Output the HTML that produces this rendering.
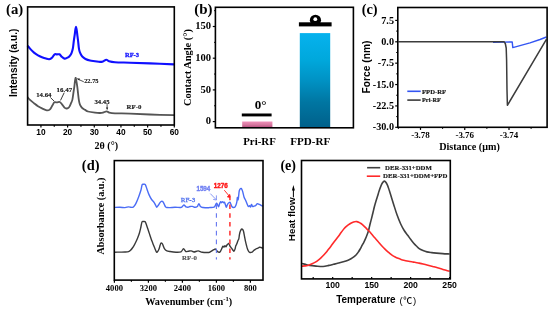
<!DOCTYPE html>
<html><head><meta charset="utf-8"><style>
html,body{margin:0;padding:0;background:#fff;overflow:hidden;}
svg{display:block;}
</style></head><body>
<svg width="550" height="312" viewBox="0 0 550 312">
<rect width="550" height="312" fill="#fff"/>
<text x="6.05" y="14.20" font-family='"Liberation Serif", "Times New Roman", serif' font-size="14.75" font-weight="bold">(a)</text>
<line x1="40.94" y1="125.00" x2="40.94" y2="127.60" stroke="#000" stroke-width="1.2" />
<line x1="54.27" y1="125.00" x2="54.27" y2="126.70" stroke="#000" stroke-width="1.2" />
<line x1="67.61" y1="125.00" x2="67.61" y2="127.60" stroke="#000" stroke-width="1.2" />
<line x1="80.95" y1="125.00" x2="80.95" y2="126.70" stroke="#000" stroke-width="1.2" />
<line x1="94.28" y1="125.00" x2="94.28" y2="127.60" stroke="#000" stroke-width="1.2" />
<line x1="107.62" y1="125.00" x2="107.62" y2="126.70" stroke="#000" stroke-width="1.2" />
<line x1="120.95" y1="125.00" x2="120.95" y2="127.60" stroke="#000" stroke-width="1.2" />
<line x1="134.29" y1="125.00" x2="134.29" y2="126.70" stroke="#000" stroke-width="1.2" />
<line x1="147.63" y1="125.00" x2="147.63" y2="127.60" stroke="#000" stroke-width="1.2" />
<line x1="160.96" y1="125.00" x2="160.96" y2="126.70" stroke="#000" stroke-width="1.2" />
<line x1="174.30" y1="125.00" x2="174.30" y2="127.60" stroke="#000" stroke-width="1.2" />
<text x="40.94" y="135.35" font-family='"Liberation Sans", Arial, sans-serif' font-size="8.3" font-weight="bold" text-anchor="middle" >10</text>
<text x="67.61" y="135.35" font-family='"Liberation Sans", Arial, sans-serif' font-size="8.3" font-weight="bold" text-anchor="middle" >20</text>
<text x="94.28" y="135.35" font-family='"Liberation Sans", Arial, sans-serif' font-size="8.3" font-weight="bold" text-anchor="middle" >30</text>
<text x="120.95" y="135.35" font-family='"Liberation Sans", Arial, sans-serif' font-size="8.3" font-weight="bold" text-anchor="middle" >40</text>
<text x="147.63" y="135.35" font-family='"Liberation Sans", Arial, sans-serif' font-size="8.3" font-weight="bold" text-anchor="middle" >50</text>
<text x="174.30" y="135.35" font-family='"Liberation Sans", Arial, sans-serif' font-size="8.3" font-weight="bold" text-anchor="middle" >60</text>
<text x="94.55" y="148.90" font-family='"Liberation Serif", "Times New Roman", serif' font-size="10.07" font-weight="bold">2θ (°)</text>
<text transform="translate(16.7,97.12) rotate(-90)" font-family='"Liberation Sans", Arial, sans-serif' font-size="10.12" font-weight="bold" fill="#000">Intensity (a.u.)</text>
<path d="M27.50,45.60 C27.92,46.10 28.92,47.43 30.00,48.60 C31.08,49.77 32.67,51.48 34.00,52.60 C35.33,53.72 36.67,54.53 38.00,55.30 C39.33,56.07 40.67,56.65 42.00,57.20 C43.33,57.75 44.80,58.27 46.00,58.60 C47.20,58.93 48.20,59.33 49.20,59.20 C50.20,59.07 51.10,58.62 52.00,57.80 C52.90,56.98 53.77,54.87 54.60,54.30 C55.43,53.73 56.18,54.40 57.00,54.40 C57.82,54.40 58.75,53.93 59.50,54.30 C60.25,54.67 60.67,55.88 61.50,56.60 C62.33,57.32 63.50,58.43 64.50,58.60 C65.50,58.77 66.67,58.00 67.50,57.60 C68.33,57.20 68.90,56.80 69.50,56.20 C70.10,55.60 70.65,54.87 71.10,54.00 C71.55,53.13 71.88,52.07 72.20,51.00 C72.52,49.93 72.73,49.27 73.00,47.60 C73.27,45.93 73.52,43.13 73.80,41.00 C74.08,38.87 74.43,36.72 74.70,34.80 C74.97,32.88 75.18,30.82 75.40,29.50 C75.62,28.18 75.80,26.90 76.00,26.90 C76.20,26.90 76.38,28.18 76.60,29.50 C76.82,30.82 77.05,32.88 77.30,34.80 C77.55,36.72 77.85,38.87 78.10,41.00 C78.35,43.13 78.55,45.85 78.80,47.60 C79.05,49.35 79.28,50.43 79.60,51.50 C79.92,52.57 80.22,53.12 80.70,54.00 C81.18,54.88 81.70,55.97 82.50,56.80 C83.30,57.63 84.25,58.37 85.50,59.00 C86.75,59.63 88.42,60.23 90.00,60.60 C91.58,60.97 93.33,60.98 95.00,61.20 C96.67,61.42 98.67,61.87 100.00,61.90 C101.33,61.93 101.95,61.77 103.00,61.40 C104.05,61.03 105.30,59.73 106.30,59.70 C107.30,59.67 107.55,60.78 109.00,61.20 C110.45,61.62 111.50,61.95 115.00,62.20 C118.50,62.45 124.17,62.50 130.00,62.70 C135.83,62.90 142.67,63.12 150.00,63.40 C157.33,63.68 170.00,64.23 174.00,64.40" fill="none" stroke="#1010ff" stroke-width="2.1" stroke-linejoin="round"/>
<path d="M27.50,97.20 C27.92,97.65 28.92,98.90 30.00,99.90 C31.08,100.90 32.67,102.15 34.00,103.20 C35.33,104.25 36.67,105.33 38.00,106.20 C39.33,107.07 40.53,107.70 42.00,108.40 C43.47,109.10 45.47,110.25 46.80,110.40 C48.13,110.55 49.05,110.17 50.00,109.30 C50.95,108.43 51.77,106.37 52.50,105.20 C53.23,104.03 53.65,102.77 54.40,102.30 C55.15,101.83 56.10,102.45 57.00,102.40 C57.90,102.35 58.97,101.68 59.80,102.00 C60.63,102.32 61.22,103.37 62.00,104.30 C62.78,105.23 63.77,106.90 64.50,107.60 C65.23,108.30 65.73,108.47 66.40,108.50 C67.07,108.53 67.93,108.22 68.50,107.80 C69.07,107.38 69.38,106.77 69.80,106.00 C70.22,105.23 70.57,104.27 71.00,103.20 C71.43,102.13 72.00,101.30 72.40,99.60 C72.80,97.90 73.08,95.13 73.40,93.00 C73.72,90.87 74.03,88.80 74.30,86.80 C74.57,84.80 74.78,82.50 75.00,81.00 C75.22,79.50 75.40,77.97 75.60,77.80 C75.80,77.63 75.92,78.50 76.20,80.00 C76.48,81.50 77.00,84.63 77.30,86.80 C77.60,88.97 77.75,90.87 78.00,93.00 C78.25,95.13 78.53,97.85 78.80,99.60 C79.07,101.35 79.28,102.43 79.60,103.50 C79.92,104.57 80.22,105.20 80.70,106.00 C81.18,106.80 81.75,107.65 82.50,108.30 C83.25,108.95 84.28,109.37 85.20,109.90 C86.12,110.43 86.37,111.03 88.00,111.50 C89.63,111.97 93.00,112.45 95.00,112.70 C97.00,112.95 98.67,113.02 100.00,113.00 C101.33,112.98 101.90,112.88 103.00,112.60 C104.10,112.32 105.60,111.32 106.60,111.30 C107.60,111.28 107.60,112.17 109.00,112.50 C110.40,112.83 111.50,113.12 115.00,113.30 C118.50,113.48 124.17,113.40 130.00,113.60 C135.83,113.80 142.67,114.23 150.00,114.50 C157.33,114.77 170.00,115.08 174.00,115.20" fill="none" stroke="#555" stroke-width="1.8" stroke-linejoin="round"/>
<text transform="translate(125.02,56.80) scale(1,1.035)" font-family='"Liberation Serif", "Times New Roman", serif' font-size="6.45" font-weight="bold" fill="#1414ff" stroke="#1414ff" stroke-width="0.3">RF-3</text>
<text x="126.60" y="108.65" font-family='"Liberation Serif", "Times New Roman", serif' font-size="6.83" font-weight="bold" fill="#222" stroke="#222" stroke-width="0.15">RF-0</text>
<text x="36.25" y="96.65" font-family='"Liberation Serif", "Times New Roman", serif' font-size="6.74" font-weight="bold" fill="#1a1a1a" stroke="#1a1a1a" stroke-width="0.15">14.64</text>
<text x="56.62" y="91.75" font-family='"Liberation Serif", "Times New Roman", serif' font-size="6.9" font-weight="bold" fill="#1a1a1a" stroke="#1a1a1a" stroke-width="0.15">16.47</text>
<text x="84.20" y="82.76" font-family='"Liberation Serif", "Times New Roman", serif' font-size="6.36" font-weight="bold" fill="#1a1a1a" stroke="#1a1a1a" stroke-width="0.15">22.75</text>
<text x="94.48" y="103.50" font-family='"Liberation Serif", "Times New Roman", serif' font-size="6.72" font-weight="bold" fill="#1a1a1a" stroke="#1a1a1a" stroke-width="0.15">34.45</text>
<line x1="50.40" y1="97.50" x2="54.20" y2="101.20" stroke="#222" stroke-width="0.9" />
<line x1="64.20" y1="92.70" x2="60.50" y2="100.40" stroke="#222" stroke-width="0.9" />
<line x1="77.40" y1="78.90" x2="83.80" y2="81.80" stroke="#222" stroke-width="0.8" />
<path d="M76.9,78.6 L79.9,78.6 L79.2,80.6 Z" fill="#222"/>
<line x1="107.10" y1="104.10" x2="107.10" y2="108.60" stroke="#222" stroke-width="0.8" />
<path d="M106.0,107.6 L108.2,107.6 L107.1,110.2 Z" fill="#222"/>
<rect x="27.6" y="6.9" width="146.70" height="118.10" fill="none" stroke="#000" stroke-width="1.6"/>
<text x="194.20" y="14.05" font-family='"Liberation Serif", "Times New Roman", serif' font-size="14.97" font-weight="bold">(b)</text>
<defs><linearGradient id="gp" x1="0" y1="0" x2="0" y2="1"><stop offset="0" stop-color="#f090bb"/><stop offset="0.5" stop-color="#d7789f"/><stop offset="1" stop-color="#b04a7c"/></linearGradient><linearGradient id="gb" x1="0" y1="0" x2="0" y2="1"><stop offset="0" stop-color="#06b2ee"/><stop offset="0.28" stop-color="#00a8dc"/><stop offset="0.5" stop-color="#0092c4"/><stop offset="0.73" stop-color="#0076a2"/><stop offset="1" stop-color="#00608a"/></linearGradient></defs>
<rect x="242.2" y="121.5" width="30.2" height="6.30" fill="url(#gp)"/>
<rect x="299.8" y="33.1" width="30.4" height="94.70" fill="url(#gb)"/>
<line x1="212.80" y1="121.60" x2="215.40" y2="121.60" stroke="#000" stroke-width="1.2" />
<text x="211.00" y="124.25" font-family='"Liberation Serif", "Times New Roman", serif' font-size="10.58" font-weight="bold" text-anchor="end" >0</text>
<line x1="212.80" y1="89.90" x2="215.40" y2="89.90" stroke="#000" stroke-width="1.2" />
<text x="211.00" y="92.55" font-family='"Liberation Serif", "Times New Roman", serif' font-size="10.58" font-weight="bold" text-anchor="end" >50</text>
<line x1="212.80" y1="58.20" x2="215.40" y2="58.20" stroke="#000" stroke-width="1.2" />
<text x="211.00" y="60.85" font-family='"Liberation Serif", "Times New Roman", serif' font-size="10.58" font-weight="bold" text-anchor="end" >100</text>
<line x1="212.80" y1="26.50" x2="215.40" y2="26.50" stroke="#000" stroke-width="1.2" />
<text x="211.00" y="29.15" font-family='"Liberation Serif", "Times New Roman", serif' font-size="10.58" font-weight="bold" text-anchor="end" >150</text>
<line x1="214.00" y1="105.75" x2="215.40" y2="105.75" stroke="#000" stroke-width="0.9" />
<line x1="214.00" y1="74.05" x2="215.40" y2="74.05" stroke="#000" stroke-width="0.9" />
<line x1="214.00" y1="42.35" x2="215.40" y2="42.35" stroke="#000" stroke-width="0.9" />
<line x1="214.00" y1="10.65" x2="215.40" y2="10.65" stroke="#000" stroke-width="0.9" />
<text transform="translate(191.35,105.98) rotate(-90)" font-family='"Liberation Serif", "Times New Roman", serif' font-size="10.4" font-weight="bold" fill="#000">Contact Angle (°)</text>
<text x="243.24" y="144.72" font-family='"Liberation Serif", "Times New Roman", serif' font-size="10.86" font-weight="bold">Pri-RF</text>
<text x="290.29" y="144.72" font-family='"Liberation Serif", "Times New Roman", serif' font-size="11.1" font-weight="bold">FPD-RF</text>
<text transform="translate(254.73,109.30) scale(1,1.006)" font-family='"Liberation Serif", "Times New Roman", serif' font-size="13.07" font-weight="bold">0°</text>
<rect x="241.8" y="113.5" width="29.8" height="2.9" fill="#000"/>
<rect x="298.9" y="22.3" width="32.7" height="4.1" fill="#000"/>
<circle cx="315.45" cy="20.3" r="5.6" fill="#000"/>
<circle cx="315.3" cy="19.2" r="1.9" fill="#fff"/>
<rect x="215.4" y="7.3" width="138.00" height="120.50" fill="none" stroke="#000" stroke-width="1.6"/>
<text x="361.64" y="13.80" font-family='"Liberation Serif", "Times New Roman", serif' font-size="14.34" font-weight="bold">(c)</text>
<line x1="395.20" y1="20.42" x2="397.80" y2="20.42" stroke="#000" stroke-width="1.2" />
<text x="394.00" y="23.52" font-family='"Liberation Serif", "Times New Roman", serif' font-size="10.2" font-weight="bold" text-anchor="end" >7.5</text>
<line x1="395.20" y1="41.80" x2="397.80" y2="41.80" stroke="#000" stroke-width="1.2" />
<text x="394.00" y="44.90" font-family='"Liberation Serif", "Times New Roman", serif' font-size="10.2" font-weight="bold" text-anchor="end" >0.0</text>
<line x1="395.20" y1="63.17" x2="397.80" y2="63.17" stroke="#000" stroke-width="1.2" />
<text x="394.00" y="66.27" font-family='"Liberation Serif", "Times New Roman", serif' font-size="10.2" font-weight="bold" text-anchor="end" >-7.5</text>
<line x1="395.20" y1="84.55" x2="397.80" y2="84.55" stroke="#000" stroke-width="1.2" />
<text x="394.00" y="87.65" font-family='"Liberation Serif", "Times New Roman", serif' font-size="10.2" font-weight="bold" text-anchor="end" >-15.0</text>
<line x1="395.20" y1="105.92" x2="397.80" y2="105.92" stroke="#000" stroke-width="1.2" />
<text x="394.00" y="109.02" font-family='"Liberation Serif", "Times New Roman", serif' font-size="10.2" font-weight="bold" text-anchor="end" >-22.5</text>
<line x1="395.20" y1="127.30" x2="397.80" y2="127.30" stroke="#000" stroke-width="1.2" />
<text x="394.00" y="130.40" font-family='"Liberation Serif", "Times New Roman", serif' font-size="10.2" font-weight="bold" text-anchor="end" >-30.0</text>
<line x1="396.20" y1="31.11" x2="397.80" y2="31.11" stroke="#000" stroke-width="1" />
<line x1="396.20" y1="52.49" x2="397.80" y2="52.49" stroke="#000" stroke-width="1" />
<line x1="396.20" y1="73.86" x2="397.80" y2="73.86" stroke="#000" stroke-width="1" />
<line x1="396.20" y1="95.24" x2="397.80" y2="95.24" stroke="#000" stroke-width="1" />
<line x1="396.20" y1="116.61" x2="397.80" y2="116.61" stroke="#000" stroke-width="1" />
<line x1="420.50" y1="127.30" x2="420.50" y2="129.90" stroke="#000" stroke-width="1.2" />
<text x="420.50" y="138.40" font-family='"Liberation Serif", "Times New Roman", serif' font-size="8.99" font-weight="bold" text-anchor="middle" >-3.78</text>
<line x1="464.75" y1="127.30" x2="464.75" y2="129.90" stroke="#000" stroke-width="1.2" />
<text x="464.75" y="138.40" font-family='"Liberation Serif", "Times New Roman", serif' font-size="8.99" font-weight="bold" text-anchor="middle" >-3.76</text>
<line x1="509.00" y1="127.30" x2="509.00" y2="129.90" stroke="#000" stroke-width="1.2" />
<text x="509.00" y="138.40" font-family='"Liberation Serif", "Times New Roman", serif' font-size="8.99" font-weight="bold" text-anchor="middle" >-3.74</text>
<line x1="398.37" y1="127.30" x2="398.37" y2="128.90" stroke="#000" stroke-width="1" />
<line x1="442.62" y1="127.30" x2="442.62" y2="128.90" stroke="#000" stroke-width="1" />
<line x1="486.87" y1="127.30" x2="486.87" y2="128.90" stroke="#000" stroke-width="1" />
<line x1="531.12" y1="127.30" x2="531.12" y2="128.90" stroke="#000" stroke-width="1" />
<text x="439.20" y="149.86" font-family='"Liberation Serif", "Times New Roman", serif' font-size="10.14" font-weight="bold">Distance (μm)</text>
<text transform="translate(370.0,93.4) rotate(-90)" font-family='"Liberation Sans", Arial, sans-serif' font-size="10.24" font-weight="bold" fill="#000">Force (nm)</text>
<path d="M493.00,42.20 L504.00,42.10 L512.20,41.90 L512.80,47.60 L520.00,45.60 L530.00,42.80 L540.00,39.50 L546.40,37.00" fill="none" stroke="#3355f2" stroke-width="1.4" stroke-linejoin="round"/>
<path d="M398.40,41.80 L504.00,41.80 L505.30,43.50 L506.20,48.00 L506.60,60.00 L507.00,90.00 L507.40,105.30 L546.40,39.30" fill="none" stroke="#3c3c3c" stroke-width="1.5" stroke-linejoin="round"/>
<line x1="407.30" y1="91.30" x2="420.70" y2="91.30" stroke="#3355f2" stroke-width="1.6" />
<line x1="407.30" y1="100.10" x2="420.70" y2="100.10" stroke="#3c3c3c" stroke-width="1.6" />
<text x="422.05" y="93.70" font-family='"Liberation Serif", "Times New Roman", serif' font-size="6.65" font-weight="bold" fill="#1a1a1a" stroke="#1a1a1a" stroke-width="0.2">FPD-RF</text>
<text x="422.04" y="102.44" font-family='"Liberation Serif", "Times New Roman", serif' font-size="6.28" font-weight="bold" fill="#1a1a1a" stroke="#1a1a1a" stroke-width="0.2">Pri-RF</text>
<rect x="397.8" y="7.5" width="149.30" height="119.80" fill="none" stroke="#000" stroke-width="1.6"/>
<text x="81.85" y="169.90" font-family='"Liberation Serif", "Times New Roman", serif' font-size="14.45" font-weight="bold">(d)</text>
<line x1="114.40" y1="280.10" x2="114.40" y2="282.70" stroke="#000" stroke-width="1.2" />
<line x1="131.40" y1="280.10" x2="131.40" y2="281.70" stroke="#000" stroke-width="1.2" />
<line x1="148.40" y1="280.10" x2="148.40" y2="282.70" stroke="#000" stroke-width="1.2" />
<line x1="165.40" y1="280.10" x2="165.40" y2="281.70" stroke="#000" stroke-width="1.2" />
<line x1="182.40" y1="280.10" x2="182.40" y2="282.70" stroke="#000" stroke-width="1.2" />
<line x1="199.40" y1="280.10" x2="199.40" y2="281.70" stroke="#000" stroke-width="1.2" />
<line x1="216.40" y1="280.10" x2="216.40" y2="282.70" stroke="#000" stroke-width="1.2" />
<line x1="233.40" y1="280.10" x2="233.40" y2="281.70" stroke="#000" stroke-width="1.2" />
<line x1="250.40" y1="280.10" x2="250.40" y2="282.70" stroke="#000" stroke-width="1.2" />
<text x="114.40" y="291.21" font-family='"Liberation Serif", "Times New Roman", serif' font-size="8.56" font-weight="bold" text-anchor="middle" >4000</text>
<text x="148.40" y="291.21" font-family='"Liberation Serif", "Times New Roman", serif' font-size="8.56" font-weight="bold" text-anchor="middle" >3200</text>
<text x="182.40" y="291.21" font-family='"Liberation Serif", "Times New Roman", serif' font-size="8.56" font-weight="bold" text-anchor="middle" >2400</text>
<text x="216.40" y="291.21" font-family='"Liberation Serif", "Times New Roman", serif' font-size="8.56" font-weight="bold" text-anchor="middle" >1600</text>
<text x="250.40" y="291.21" font-family='"Liberation Serif", "Times New Roman", serif' font-size="8.56" font-weight="bold" text-anchor="middle" >800</text>
<text x="145.2" y="304.88" font-family='"Liberation Serif", "Times New Roman", serif' font-size="10.24" font-weight="bold">Wavenumber (cm<tspan dy="-3.6" font-size="0.65em">-1</tspan><tspan dy="3.6">)</tspan></text>
<text transform="translate(103.85,254.5) rotate(-90)" font-family='"Liberation Serif", "Times New Roman", serif' font-size="10.13" font-weight="bold" fill="#000">Absorbance (a.u.)</text>
<path d="M114.20,207.40 C115.17,207.38 118.20,207.27 120.00,207.30 C121.80,207.33 123.58,207.67 125.00,207.60 C126.42,207.53 127.50,206.95 128.50,206.90 C129.50,206.85 130.22,207.25 131.00,207.30 C131.78,207.35 132.53,207.58 133.20,207.20 C133.87,206.82 134.48,205.77 135.00,205.00 C135.52,204.23 135.67,204.03 136.30,202.60 C136.93,201.17 138.03,198.45 138.80,196.40 C139.57,194.35 140.33,192.27 140.90,190.30 C141.47,188.33 141.73,185.60 142.20,184.60 C142.67,183.60 143.18,184.30 143.70,184.30 C144.22,184.30 144.75,183.78 145.30,184.60 C145.85,185.42 146.37,187.48 147.00,189.20 C147.63,190.92 148.33,193.18 149.10,194.90 C149.87,196.62 150.75,198.22 151.60,199.50 C152.45,200.78 153.53,201.65 154.20,202.60 C154.87,203.55 155.17,204.43 155.60,205.20 C156.03,205.97 156.32,207.23 156.80,207.20 C157.28,207.17 157.97,205.77 158.50,205.00 C159.03,204.23 159.52,203.22 160.00,202.60 C160.48,201.98 160.92,201.45 161.40,201.30 C161.88,201.15 162.42,201.20 162.90,201.70 C163.38,202.20 163.87,203.43 164.30,204.30 C164.73,205.17 165.05,206.37 165.50,206.90 C165.95,207.43 166.25,207.38 167.00,207.50 C167.75,207.62 168.67,207.63 170.00,207.60 C171.33,207.57 173.33,207.32 175.00,207.30 C176.67,207.28 178.87,207.52 180.00,207.50 C181.13,207.48 181.15,207.62 181.80,207.20 C182.45,206.78 183.20,205.07 183.90,205.00 C184.60,204.93 185.32,206.43 186.00,206.80 C186.68,207.17 187.33,207.25 188.00,207.20 C188.67,207.15 189.27,206.63 190.00,206.50 C190.73,206.37 191.57,206.27 192.40,206.40 C193.23,206.53 194.18,207.28 195.00,207.30 C195.82,207.32 196.65,207.12 197.30,206.50 C197.95,205.88 198.37,203.58 198.90,203.60 C199.43,203.62 199.82,205.95 200.50,206.60 C201.18,207.25 201.75,207.30 203.00,207.50 C204.25,207.70 206.83,207.80 208.00,207.80 C209.17,207.80 209.00,207.60 210.00,207.50 C211.00,207.40 213.08,207.60 214.00,207.20 C214.92,206.80 215.08,205.77 215.50,205.10 C215.92,204.43 216.17,203.28 216.50,203.20 C216.83,203.12 217.17,204.00 217.50,204.60 C217.83,205.20 218.17,206.88 218.50,206.80 C218.83,206.72 219.17,204.95 219.50,204.10 C219.83,203.25 220.17,201.93 220.50,201.70 C220.83,201.47 221.17,202.70 221.50,202.70 C221.83,202.70 222.17,201.70 222.50,201.70 C222.83,201.70 223.17,202.62 223.50,202.70 C223.83,202.78 224.17,201.80 224.50,202.20 C224.83,202.60 225.20,204.27 225.50,205.10 C225.80,205.93 226.05,207.12 226.30,207.20 C226.55,207.28 226.72,206.20 227.00,205.60 C227.28,205.00 227.67,204.08 228.00,203.60 C228.33,203.12 228.67,202.93 229.00,202.70 C229.33,202.47 229.67,201.88 230.00,202.20 C230.33,202.52 230.67,203.83 231.00,204.60 C231.33,205.37 231.58,206.32 232.00,206.80 C232.42,207.28 233.00,207.47 233.50,207.50 C234.00,207.53 234.58,207.40 235.00,207.00 C235.42,206.60 235.68,205.98 236.00,205.10 C236.32,204.22 236.67,202.98 236.90,201.70 C237.13,200.42 237.20,197.72 237.40,197.40 C237.60,197.08 237.88,200.12 238.10,199.80 C238.32,199.48 238.50,197.02 238.70,195.50 C238.90,193.98 238.98,191.87 239.30,190.70 C239.62,189.53 240.22,188.80 240.60,188.50 C240.98,188.20 241.25,188.38 241.60,188.90 C241.95,189.42 242.28,190.22 242.70,191.60 C243.12,192.98 243.62,195.77 244.10,197.20 C244.58,198.63 245.12,199.10 245.60,200.20 C246.08,201.30 246.55,202.75 247.00,203.80 C247.45,204.85 247.88,206.17 248.30,206.50 C248.72,206.83 249.13,205.72 249.50,205.80 C249.87,205.88 250.17,207.23 250.50,207.00 C250.83,206.77 251.17,204.50 251.50,204.40 C251.83,204.30 252.08,206.12 252.50,206.40 C252.92,206.68 253.50,206.20 254.00,206.10 C254.50,206.00 255.00,206.18 255.50,205.80 C256.00,205.42 256.50,204.08 257.00,203.80 C257.50,203.52 258.00,203.95 258.50,204.10 C259.00,204.25 259.50,204.45 260.00,204.70 C260.50,204.95 261.00,205.37 261.50,205.60 C262.00,205.83 262.75,206.02 263.00,206.10" fill="none" stroke="#4a6cf5" stroke-width="1.4" stroke-linejoin="round"/>
<path d="M114.20,252.20 C115.17,252.18 118.20,252.13 120.00,252.10 C121.80,252.07 123.57,252.08 125.00,252.00 C126.43,251.92 127.68,251.88 128.60,251.60 C129.52,251.32 129.87,250.90 130.50,250.30 C131.13,249.70 131.75,248.92 132.40,248.00 C133.05,247.08 133.75,245.97 134.40,244.80 C135.05,243.63 135.70,242.30 136.30,241.00 C136.90,239.70 137.47,238.38 138.00,237.00 C138.53,235.62 139.03,234.28 139.50,232.70 C139.97,231.12 140.38,229.28 140.80,227.50 C141.22,225.72 141.55,223.00 142.00,222.00 C142.45,221.00 142.97,221.53 143.50,221.50 C144.03,221.47 144.70,221.22 145.20,221.80 C145.70,222.38 146.07,223.83 146.50,225.00 C146.93,226.17 147.32,227.37 147.80,228.80 C148.28,230.23 148.87,232.00 149.40,233.60 C149.93,235.20 150.47,236.88 151.00,238.40 C151.53,239.92 152.07,241.30 152.60,242.70 C153.13,244.10 153.72,245.58 154.20,246.80 C154.68,248.02 155.07,249.07 155.50,250.00 C155.93,250.93 156.38,252.23 156.80,252.40 C157.22,252.57 157.62,251.62 158.00,251.00 C158.38,250.38 158.75,249.65 159.10,248.70 C159.45,247.75 159.80,246.22 160.10,245.30 C160.40,244.38 160.63,243.57 160.90,243.20 C161.17,242.83 161.43,242.97 161.70,243.10 C161.97,243.23 162.20,243.43 162.50,244.00 C162.80,244.57 163.17,245.72 163.50,246.50 C163.83,247.28 164.02,248.02 164.50,248.70 C164.98,249.38 165.48,250.13 166.40,250.60 C167.32,251.07 168.40,251.23 170.00,251.50 C171.60,251.77 174.17,252.15 176.00,252.20 C177.83,252.25 179.75,252.37 181.00,251.80 C182.25,251.23 182.70,248.85 183.50,248.80 C184.30,248.75 184.97,251.10 185.80,251.50 C186.63,251.90 187.58,251.30 188.50,251.20 C189.42,251.10 190.38,250.77 191.30,250.90 C192.22,251.03 192.87,252.00 194.00,252.00 C195.13,252.00 196.73,250.87 198.10,250.90 C199.47,250.93 200.62,251.93 202.20,252.20 C203.78,252.47 206.30,252.53 207.60,252.50 C208.90,252.47 209.23,252.32 210.00,252.00 C210.77,251.68 211.53,251.00 212.20,250.60 C212.87,250.20 213.45,249.85 214.00,249.60 C214.55,249.35 215.00,248.88 215.50,249.10 C216.00,249.32 216.50,250.38 217.00,250.90 C217.50,251.42 218.00,252.03 218.50,252.20 C219.00,252.37 219.58,252.23 220.00,251.90 C220.42,251.57 220.67,250.83 221.00,250.20 C221.33,249.57 221.67,248.78 222.00,248.10 C222.33,247.42 222.67,246.27 223.00,246.10 C223.33,245.93 223.67,247.17 224.00,247.10 C224.33,247.03 224.67,245.75 225.00,245.70 C225.33,245.65 225.67,246.92 226.00,246.80 C226.33,246.68 226.67,245.47 227.00,245.00 C227.33,244.53 227.67,244.25 228.00,244.00 C228.33,243.75 228.67,243.15 229.00,243.50 C229.33,243.85 229.58,245.33 230.00,246.10 C230.42,246.87 231.00,247.42 231.50,248.10 C232.00,248.78 232.58,249.68 233.00,250.20 C233.42,250.72 233.67,251.38 234.00,251.20 C234.33,251.02 234.72,249.95 235.00,249.10 C235.28,248.25 235.45,246.87 235.70,246.10 C235.95,245.33 236.23,245.10 236.50,244.50 C236.77,243.90 237.05,243.18 237.30,242.50 C237.55,241.82 237.75,241.00 238.00,240.40 C238.25,239.80 238.55,239.92 238.80,238.90 C239.05,237.88 239.25,235.58 239.50,234.30 C239.75,233.02 239.97,232.07 240.30,231.20 C240.63,230.33 241.13,229.42 241.50,229.10 C241.87,228.78 242.17,228.95 242.50,229.30 C242.83,229.65 243.17,230.03 243.50,231.20 C243.83,232.37 244.17,234.60 244.50,236.30 C244.83,238.00 245.17,239.87 245.50,241.40 C245.83,242.93 246.17,244.23 246.50,245.50 C246.83,246.77 247.12,247.98 247.50,249.00 C247.88,250.02 248.38,251.02 248.80,251.60 C249.22,252.18 249.47,252.40 250.00,252.50 C250.53,252.60 251.42,252.50 252.00,252.20 C252.58,251.90 253.00,251.13 253.50,250.70 C254.00,250.27 254.50,249.93 255.00,249.60 C255.50,249.27 256.00,248.95 256.50,248.70 C257.00,248.45 257.50,248.35 258.00,248.10 C258.50,247.85 259.00,247.30 259.50,247.20 C260.00,247.10 260.42,247.30 261.00,247.50 C261.58,247.70 262.67,248.25 263.00,248.40" fill="none" stroke="#3a3a3a" stroke-width="1.4" stroke-linejoin="round"/>
<line x1="216.40" y1="204.40" x2="216.40" y2="259.50" stroke="#6476f0" stroke-width="1.1" stroke-dasharray="4.6,4.2"/>
<line x1="229.90" y1="195.60" x2="229.90" y2="259.50" stroke="#ff5050" stroke-width="1.8" stroke-dasharray="4.6,4.2"/>
<line x1="210.30" y1="193.60" x2="215.90" y2="199.40" stroke="#6a7ef0" stroke-width="0.8" />
<path d="M216.4,195.4 L216.4,200.0 L213.2,199.4" fill="none" stroke="#6a7ef0" stroke-width="0.8"/>
<line x1="224.30" y1="190.20" x2="229.70" y2="196.60" stroke="#ff1a1a" stroke-width="0.9" />
<path d="M229.8,194.2 L229.8,197.6 L227.2,196.9 Z" fill="#ff1a1a" stroke="#ff1a1a" stroke-width="0.6"/>
<text transform="translate(196.40,191.45) scale(1,1.035)" font-family='"Liberation Sans", Arial, sans-serif' font-size="6.26" font-weight="bold" fill="#6f7ff2" stroke="#6f7ff2" stroke-width="0.35">1594</text>
<text transform="translate(213.86,187.80) scale(1,1.035)" font-family='"Liberation Sans", Arial, sans-serif' font-size="6.28" font-weight="bold" fill="#ff1414" stroke="#ff1414" stroke-width="0.4">1276</text>
<text x="180.80" y="202.40" font-family='"Liberation Serif", "Times New Roman", serif' font-size="6.99" font-weight="normal" fill="#5575ee" stroke="#5575ee" stroke-width="0.3">RF-3</text>
<text x="182.10" y="259.75" font-family='"Liberation Serif", "Times New Roman", serif' font-size="6.83" font-weight="bold" fill="#555" stroke="#555" stroke-width="0.15">RF-0</text>
<rect x="114.3" y="160.6" width="148.70" height="119.50" fill="none" stroke="#000" stroke-width="1.6"/>
<text x="280.46" y="169.55" font-family='"Liberation Serif", "Times New Roman", serif' font-size="14.0" font-weight="bold">(e)</text>
<line x1="313.19" y1="278.90" x2="313.19" y2="277.10" stroke="#000" stroke-width="1.2" />
<line x1="332.68" y1="278.90" x2="332.68" y2="277.10" stroke="#000" stroke-width="1.2" />
<line x1="352.17" y1="278.90" x2="352.17" y2="277.10" stroke="#000" stroke-width="1.2" />
<line x1="371.65" y1="278.90" x2="371.65" y2="277.10" stroke="#000" stroke-width="1.2" />
<line x1="391.14" y1="278.90" x2="391.14" y2="277.10" stroke="#000" stroke-width="1.2" />
<line x1="410.63" y1="278.90" x2="410.63" y2="277.10" stroke="#000" stroke-width="1.2" />
<line x1="430.11" y1="278.90" x2="430.11" y2="277.10" stroke="#000" stroke-width="1.2" />
<line x1="449.60" y1="278.90" x2="449.60" y2="277.10" stroke="#000" stroke-width="1.2" />
<text x="332.68" y="288.36" font-family='"Liberation Sans", Arial, sans-serif' font-size="8.7" font-weight="bold" text-anchor="middle" >100</text>
<text x="371.65" y="288.36" font-family='"Liberation Sans", Arial, sans-serif' font-size="8.7" font-weight="bold" text-anchor="middle" >150</text>
<text x="410.63" y="288.36" font-family='"Liberation Sans", Arial, sans-serif' font-size="8.7" font-weight="bold" text-anchor="middle" >200</text>
<text x="449.60" y="288.36" font-family='"Liberation Sans", Arial, sans-serif' font-size="8.7" font-weight="bold" text-anchor="middle" >250</text>
<text transform="translate(336.22,303.40) scale(1,1.017)" font-family='"Liberation Sans", Arial, sans-serif' font-size="9.95" font-weight="bold">Temperature</text>
<text x="399.4" y="304.0" font-family='"Liberation Sans", sans-serif' font-size="9.6">(</text>
<text x="403.3" y="303.6" font-family='"Noto Sans CJK SC", sans-serif' font-size="9" font-weight="500">℃</text>
<text x="412.9" y="304.0" font-family='"Liberation Sans", sans-serif' font-size="9.6">)</text>
<text transform="translate(295.45,241.15) rotate(-90)" font-family='"Liberation Sans", Arial, sans-serif' font-size="9.83" font-weight="bold" fill="#000">Heat flow</text>
<line x1="293.40" y1="197.30" x2="293.40" y2="189.00" stroke="#000" stroke-width="1" />
<path d="M293.4,185 L291.9,190.4 L294.9,190.4 Z" fill="#000"/>
<path d="M302.00,263.50 C302.58,263.65 304.23,264.08 305.50,264.40 C306.77,264.72 307.85,265.12 309.60,265.40 C311.35,265.68 313.75,265.92 316.00,266.10 C318.25,266.28 320.97,266.62 323.10,266.50 C325.23,266.38 327.07,265.77 328.80,265.40 C330.53,265.03 331.88,264.68 333.50,264.30 C335.12,263.92 336.87,263.52 338.50,263.10 C340.13,262.68 341.70,262.28 343.30,261.80 C344.90,261.32 346.82,260.70 348.10,260.20 C349.38,259.70 350.05,259.35 351.00,258.80 C351.95,258.25 352.97,257.53 353.80,256.90 C354.63,256.27 355.28,255.75 356.00,255.00 C356.72,254.25 357.40,253.40 358.10,252.40 C358.80,251.40 359.52,250.20 360.20,249.00 C360.88,247.80 361.60,246.32 362.20,245.20 C362.80,244.08 363.28,243.32 363.80,242.30 C364.32,241.28 364.78,240.28 365.30,239.10 C365.82,237.92 366.38,236.57 366.90,235.20 C367.42,233.83 367.98,232.28 368.40,230.90 C368.82,229.52 369.07,228.27 369.40,226.90 C369.73,225.53 370.05,224.08 370.40,222.70 C370.75,221.32 371.15,219.97 371.50,218.60 C371.85,217.23 372.17,215.87 372.50,214.50 C372.83,213.13 373.17,211.77 373.50,210.40 C373.83,209.03 374.08,207.87 374.50,206.30 C374.92,204.73 375.48,202.72 376.00,201.00 C376.52,199.28 377.08,197.65 377.60,196.00 C378.12,194.35 378.43,193.05 379.10,191.10 C379.77,189.15 380.72,185.97 381.60,184.30 C382.48,182.63 383.48,181.10 384.40,181.10 C385.32,181.10 386.25,182.63 387.10,184.30 C387.95,185.97 388.43,187.83 389.50,191.10 C390.57,194.37 392.23,199.90 393.50,203.90 C394.77,207.90 395.90,211.75 397.10,215.10 C398.30,218.45 399.52,221.43 400.70,224.00 C401.88,226.57 403.03,228.63 404.20,230.50 C405.37,232.37 406.63,233.73 407.70,235.20 C408.77,236.67 409.63,238.02 410.60,239.30 C411.57,240.58 412.53,241.78 413.50,242.90 C414.47,244.02 415.45,245.03 416.40,246.00 C417.35,246.97 418.10,247.93 419.20,248.70 C420.30,249.47 421.72,250.07 423.00,250.60 C424.28,251.13 425.45,251.57 426.90,251.90 C428.35,252.23 430.10,252.40 431.70,252.60 C433.30,252.80 434.67,252.93 436.50,253.10 C438.33,253.27 440.52,253.45 442.70,253.60 C444.88,253.75 448.45,253.93 449.60,254.00" fill="none" stroke="#404040" stroke-width="1.6" stroke-linejoin="round"/>
<path d="M302.00,266.20 C302.50,266.15 304.05,266.03 305.00,265.90 C305.95,265.77 306.62,265.70 307.70,265.40 C308.78,265.10 310.22,264.65 311.50,264.10 C312.78,263.55 314.27,262.77 315.40,262.10 C316.53,261.43 317.33,260.83 318.30,260.10 C319.27,259.37 320.25,258.58 321.20,257.70 C322.15,256.82 323.05,255.83 324.00,254.80 C324.95,253.77 325.93,252.68 326.90,251.50 C327.87,250.32 328.83,248.98 329.80,247.70 C330.77,246.42 331.73,245.08 332.70,243.80 C333.67,242.52 334.63,241.27 335.60,240.00 C336.57,238.73 337.55,237.48 338.50,236.20 C339.45,234.92 340.35,233.58 341.30,232.30 C342.25,231.02 343.25,229.58 344.20,228.50 C345.15,227.42 346.03,226.60 347.00,225.80 C347.97,225.00 349.10,224.27 350.00,223.70 C350.90,223.13 351.60,222.73 352.40,222.40 C353.20,222.07 354.08,221.83 354.80,221.70 C355.52,221.57 356.05,221.52 356.70,221.60 C357.35,221.68 357.98,221.88 358.70,222.20 C359.42,222.52 360.20,222.93 361.00,223.50 C361.80,224.07 362.62,224.78 363.50,225.60 C364.38,226.42 365.35,227.45 366.30,228.40 C367.25,229.35 368.25,230.27 369.20,231.30 C370.15,232.33 371.03,233.47 372.00,234.60 C372.97,235.73 374.00,236.95 375.00,238.10 C376.00,239.25 377.03,240.38 378.00,241.50 C378.97,242.62 379.87,243.75 380.80,244.80 C381.73,245.85 382.65,246.83 383.60,247.80 C384.55,248.77 385.52,249.70 386.50,250.60 C387.48,251.50 388.53,252.40 389.50,253.20 C390.47,254.00 391.35,254.77 392.30,255.40 C393.25,256.03 394.23,256.52 395.20,257.00 C396.17,257.48 397.13,257.90 398.10,258.30 C399.07,258.70 400.05,259.08 401.00,259.40 C401.95,259.72 402.53,259.90 403.80,260.20 C405.07,260.50 406.98,260.88 408.60,261.20 C410.22,261.52 411.88,261.80 413.50,262.10 C415.12,262.40 416.70,262.68 418.30,263.00 C419.90,263.32 421.50,263.63 423.10,264.00 C424.70,264.37 426.30,264.78 427.90,265.20 C429.50,265.62 431.10,266.07 432.70,266.50 C434.30,266.93 435.90,267.35 437.50,267.80 C439.10,268.25 440.88,268.78 442.30,269.20 C443.72,269.62 444.78,269.95 446.00,270.30 C447.22,270.65 449.00,271.13 449.60,271.30" fill="none" stroke="#ff2a2a" stroke-width="1.6" stroke-linejoin="round"/>
<line x1="367.10" y1="167.70" x2="380.20" y2="167.70" stroke="#404040" stroke-width="1.6" />
<line x1="366.80" y1="176.20" x2="380.20" y2="176.20" stroke="#ff2a2a" stroke-width="1.6" />
<text x="385.10" y="169.75" font-family='"Liberation Serif", "Times New Roman", serif' font-size="6.77" font-weight="bold" fill="#1a1a1a" stroke="#1a1a1a" stroke-width="0.15">DER-331+DDM</text>
<text x="382.95" y="178.25" font-family='"Liberation Serif", "Times New Roman", serif' font-size="6.85" font-weight="bold" fill="#1a1a1a" stroke="#1a1a1a" stroke-width="0.15">DER-331+DDM+FPD</text>
<rect x="301.5" y="160.5" width="148.80" height="118.40" fill="none" stroke="#000" stroke-width="1.6"/>
</svg>
</body></html>
